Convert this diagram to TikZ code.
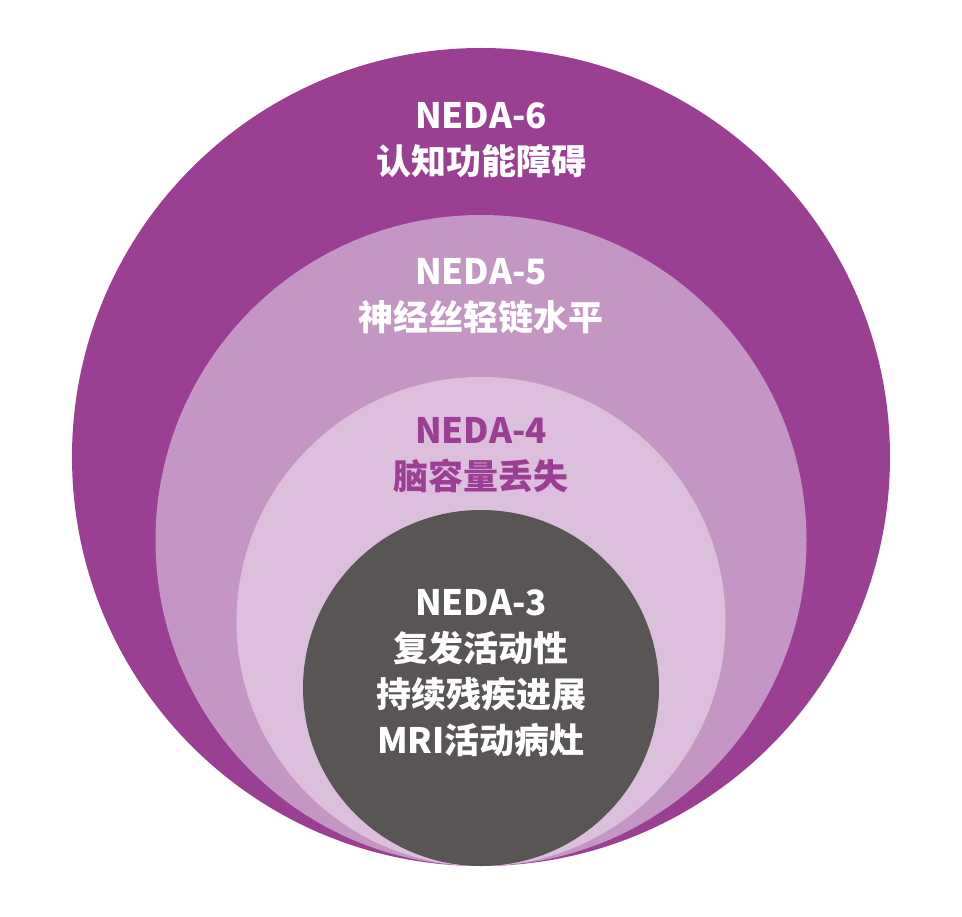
\documentclass[tikz,border=0pt]{standalone}
\usepackage{fontspec}
\setmainfont{Noto Sans CJK SC}
\usetikzlibrary{positioning}
\definecolor{ringsix}{HTML}{9B3F93}
\definecolor{ringfive}{HTML}{C496C4}
\definecolor{ringfour}{HTML}{DCBFDD}
\definecolor{coredark}{HTML}{595555}
\tikzset{
  ring/.style={circle, inner sep=0pt},
  caption/.style={align=center, font=\fontsize{35}{46}\selectfont\bfseries, text=white}
}
\begin{document}
\begin{tikzpicture}[x=1pt, y=-1pt]
    \useasboundingbox (0,0) rectangle (962,917);
    % Rings, tangent at the bottom
    \node [ring, fill=ringsix, minimum size=818pt] (six) at (481,457) {};
    \node [ring, fill=ringfive, minimum size=651pt] (five) at (481,540.5) {};
    \node [ring, fill=ringfour, minimum size=489pt] (four) at (481,621.5) {};
    \node [ring, fill=coredark, minimum size=356pt] (three) at (481,688) {};

    % Labels
    \node [caption] (lsix) at (481,140) {NEDA-6\\认知功能障碍};
    \node [caption] (lfive) at (481,296) {NEDA-5\\神经丝轻链水平};
    \node [caption, text=ringsix] (lfour) at (481,455) {NEDA-4\\脑容量丢失};
    \node [caption] (lthree) at (481,673) {NEDA-3\\复发活动性\\持续残疾进展\\MRI活动病灶};
\end{tikzpicture}
\end{document}
